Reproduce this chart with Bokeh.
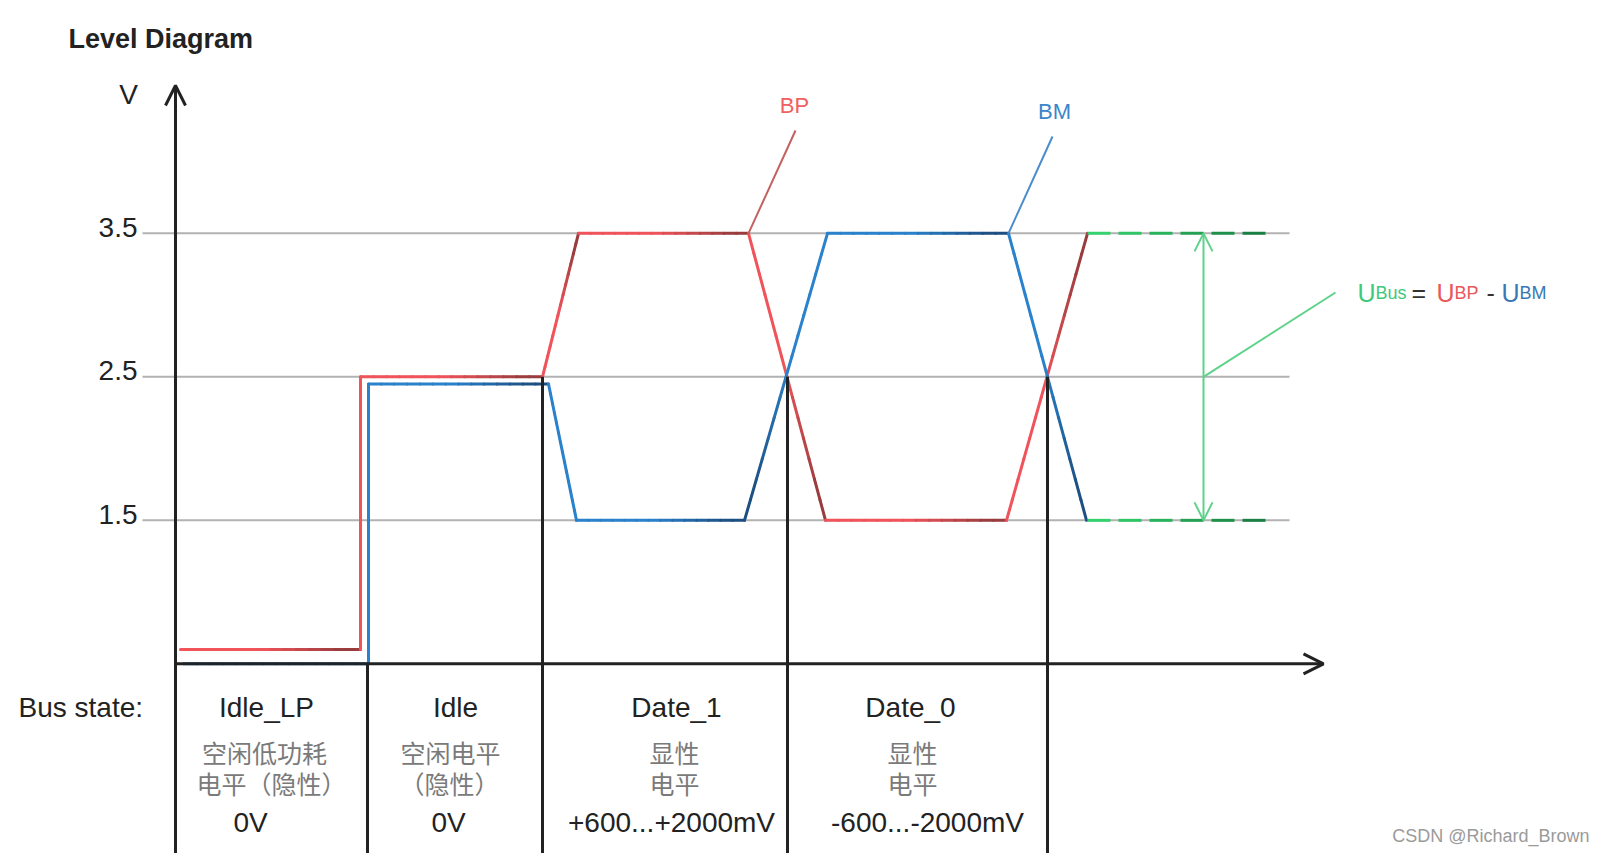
from bokeh.plotting import figure
from bokeh.models import Range1d, Arrow, OpenHead
from bokeh.core.properties import value
from bokeh.embed import file_html
from bokeh.resources import INLINE

# ---------------- data ----------------
level_ticks = [1.5, 2.5, 3.5]
tick_labels = ["1.5", "2.5", "3.5"]

# BP / BM waveforms: time (arbitrary units) and voltage
bp_t = [0.5, 18.5, 18.5, 36.7, 40.3, 57.3, 65.0, 83.1, 91.2]
bp_v = [0.6, 0.6, 2.5, 2.5, 3.5, 3.5, 1.5, 1.5, 3.5]
bm_t = [0.8, 19.3, 19.3, 37.3, 40.1, 56.9, 65.2, 83.3, 91.1]
bm_v = [0.5, 0.5, 2.45, 2.45, 1.5, 1.5, 3.5, 3.5, 1.5]

baseline_v = 0.5
bound_t = [19.2, 36.7, 61.2, 87.2]
bound_top_v = [0.5, 2.5, 2.5, 2.5]

ubus_t = [91.2, 109.0]
ubus_hi, ubus_lo = 3.5, 1.5

states = ["Idle_LP", "Idle", "Date_1", "Date_0"]
desc1 = ["空闲低功耗", "空闲电平", "显性", "显性"]
desc2 = ["电平（隐性）", "（隐性）", "电平", "电平"]
state_levels = ["0V", "0V", "+600...+2000mV", "-600...-2000mV"]

# ---------------- layout helpers (reference pixel -> data) ----------------
MARGIN = 0
W, H = 1602, 853
T0_PX, PX_PER_T = 175.0, 10.0
Y25_PX, PX_PER_V = 376.33, 143.5


def T(px):
    return (px - T0_PX) / PX_PER_T


def V(py):
    return 2.5 - (py - Y25_PX) / PX_PER_V


FONT = value("Liberation Sans")
CJK = value("Noto Sans CJK SC")
INK = "#222222"
RED, RED_DARK = "#f0545a", "#9a3c3e"
BLUE, BLUE_DARK = "#2a82cc", "#1d4f82"
GREEN = "#5fd28a"

p = figure(width=W, height=H,
           x_range=Range1d(T(MARGIN), T(MARGIN + W)),
           y_range=Range1d(V(MARGIN + H), V(MARGIN)),
           output_backend="svg", toolbar_location=None, min_border=0,
           x_axis_location=None, y_axis_location=None)
p.grid.visible = False
p.outline_line_color = None
p.background_fill_color = "white"
p.border_fill_color = "white"

bottom_v = V(MARGIN + H + 10)

# grid lines
p.segment(x0=[T(142)] * 3, y0=level_ticks, x1=[T(1289)] * 3, y1=level_ticks,
          line_color="#b2b2b2", line_width=2)

# tick labels
p.text(x=[T(137)] * 3, y=level_ticks, text=tick_labels, text_align="right",
       text_baseline="middle", y_offset=-6, text_font=FONT,
       text_font_size="28px", text_color=INK)


def hex2rgb(h):
    h = h.lstrip("#")
    return tuple(int(h[i:i + 2], 16) for i in (0, 2, 4))


def mix(c1, c2, f):
    a, b = hex2rgb(c1), hex2rgb(c2)
    return "#%02x%02x%02x" % tuple(int(round(a[i] + (b[i] - a[i]) * f)) for i in range(3))


def shaded_path(ts, vs, light, dark, modes, n=14):
    """Draw a path; each segment shaded light->dark (mode 1), dark->light (-1) or flat (0)."""
    xs, ys, cols = [], [], []
    for i in range(len(ts) - 1):
        for j in range(n):
            s0, s1 = j / n, (j + 1) / n
            sm = (s0 + s1) / 2
            if modes[i] == 0:
                f = 0.0
            else:
                s = sm if modes[i] > 0 else 1 - sm
                f = min(max((s - 0.45) / 0.45, 0.0), 1.0)
            xs.append([ts[i] + (ts[i + 1] - ts[i]) * s0, ts[i] + (ts[i + 1] - ts[i]) * s1])
            ys.append([vs[i] + (vs[i + 1] - vs[i]) * s0, vs[i] + (vs[i + 1] - vs[i]) * s1])
            cols.append(mix(light, dark, f))
    p.multi_line(xs, ys, line_color=cols, line_width=3, line_cap="round")


# waveforms
shaded_path(bp_t, bp_v, RED, RED_DARK, [1, 0, 1, 1, 1, 1, 1, 1])
shaded_path(bm_t, bm_v, BLUE, BLUE_DARK, [0, 0, 1, 0, 1, -1, 1, 1])

# state boundaries
p.segment(x0=bound_t, y0=bound_top_v, x1=bound_t, y1=[bottom_v] * 4,
          line_color=INK, line_width=3)

# axes
p.add_layout(Arrow(x_start=0, y_start=bottom_v, x_end=0, y_end=V(85),
                   line_color=INK, line_width=3,
                   end=OpenHead(size=20, line_color=INK, line_width=3)))
p.add_layout(Arrow(x_start=0, y_start=baseline_v, x_end=T(1323), y_end=baseline_v,
                   line_color=INK, line_width=3,
                   end=OpenHead(size=20, line_color=INK, line_width=3)))

# UBus dashed levels (gradient dashes)
period = 3.1
dash_cols = ["#34d26e", "#2fc466", "#2ab35d", "#24a153", "#1f904a", "#1a7f42"]
t = ubus_t[0]
k = 0
while t < ubus_t[1] - 1e-9:
    t2 = min(t + period, ubus_t[1])
    for lv in (ubus_hi, ubus_lo):
        p.line([t, t2], [lv, lv], line_color=dash_cols[min(k, 5)],
               line_width=3, line_dash="23 8")
    t = t2
    k += 1

arr_t = T(1203)
p.add_layout(Arrow(x_start=arr_t, y_start=ubus_lo, x_end=arr_t, y_end=ubus_hi,
                   line_color=GREEN, line_width=2,
                   start=OpenHead(size=18, line_color=GREEN, line_width=2),
                   end=OpenHead(size=18, line_color=GREEN, line_width=2)))
p.line([arr_t, T(1335)], [2.5, V(292)], line_color=GREEN, line_width=2)

# UBus formula
ub_y = V(292)
parts = [
    (1357, "U", "#3ec97a", "25px"),
    (1375, "Bus", "#3ec97a", "18px"),
    (1411, "=", "#333333", "25px"),
    (1436, "U", "#e8585a", "25px"),
    (1454, "BP", "#e8585a", "18px"),
    (1486, "-", "#333333", "25px"),
    (1501, "U", "#3a78b5", "25px"),
    (1519, "BM", "#3a78b5", "18px"),
]
for px_, txt, col, fs in parts:
    p.text(x=[T(px_)], y=[ub_y], text=[txt], text_align="left",
           text_baseline="alphabetic", text_font=FONT, text_font_size=fs,
           text_color=col)

# BP / BM leaders and labels
p.line([T(795), bp_t[5]], [V(130), bp_v[5]], line_color="#c4605f", line_width=2)
p.line([T(1052), bm_t[7]], [V(136), bm_v[7]], line_color="#4a8ccc", line_width=2)
p.text(x=[T(794)], y=[V(105)], text=["BP"], text_align="center",
       text_baseline="middle", text_font=FONT, text_font_size="22px",
       text_color="#f06060")
p.text(x=[T(1054)], y=[V(111)], text=["BM"], text_align="center",
       text_baseline="middle", text_font=FONT, text_font_size="22px",
       text_color="#3b86c8")

# titles
p.text(x=[T(68)], y=[V(38)], text=["Level Diagram"], text_align="left",
       text_baseline="middle", text_font=FONT, text_font_size="27px",
       text_font_style="bold", text_color=INK)
p.text(x=[T(128)], y=[V(94)], text=["V"], text_align="center",
       text_baseline="middle", text_font=FONT, text_font_size="28px",
       text_color=INK)

# bus state rows
p.text(x=[T(18)], y=[V(707)], text=["Bus state:"], text_align="left",
       text_baseline="middle", text_font=FONT, text_font_size="28px",
       text_color=INK)
p.text(x=[T(v) for v in (266, 455, 676, 910)], y=[V(707)] * 4, text=states,
       text_align="center", text_baseline="middle", text_font=FONT,
       text_font_size="28px", text_color=INK)
p.text(x=[T(v) for v in (264, 450, 674, 912)], y=[V(751)] * 4, text=desc1,
       text_align="center", text_baseline="middle", text_font=CJK,
       text_font_size="25px", text_color="#7a7a7a")
p.text(x=[T(v) for v in (271, 449, 674, 912)], y=[V(782)] * 4, text=desc2,
       text_align="center", text_baseline="middle", text_font=CJK,
       text_font_size="25px", text_color="#7a7a7a")
p.text(x=[T(v) for v in (250, 448, 671, 927)], y=[V(822)] * 4, text=state_levels,
       text_align="center", text_baseline="middle", text_font=FONT,
       text_font_size="28px", text_color=INK)

# watermark
p.text(x=[T(1589)], y=[V(835)], text=["CSDN @Richard_Brown"], text_align="right",
       text_baseline="middle", text_font=FONT, text_font_size="18px",
       text_color="#9a9a9a")

open("out.html", "w").write(file_html(p, INLINE))
